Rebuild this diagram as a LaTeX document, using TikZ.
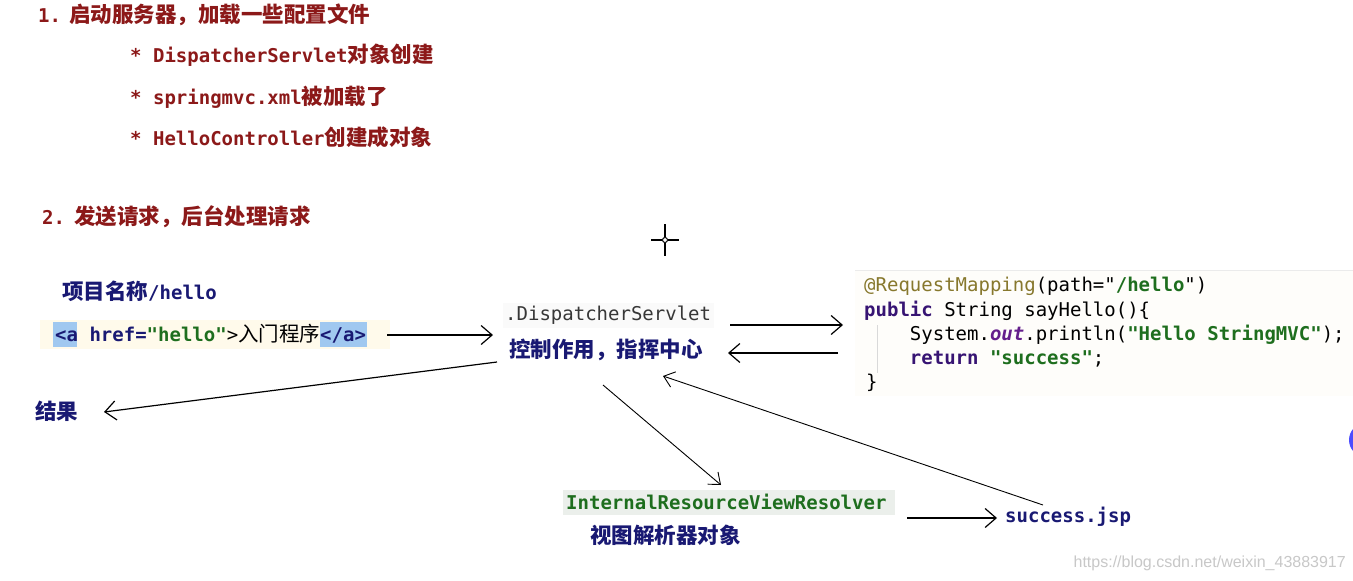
\documentclass[tikz,border=0pt]{standalone}
\usepackage{fontspec}
\setmainfont{DejaVu Sans}
\newfontfamily\cjk{Noto Sans CJK SC}
\newfontfamily\mono{DejaVu Sans Mono}
\newfontfamily\wmfont{Liberation Sans}
\usetikzlibrary{arrows.meta}
\definecolor{maroon}{RGB}{140,25,25}
\definecolor{navyc}{RGB}{25,25,115}
\definecolor{kwpurple}{RGB}{55,20,115}
\definecolor{strgreen}{RGB}{30,110,30}
\definecolor{annolive}{RGB}{135,120,45}
\definecolor{outpurple}{RGB}{100,30,140}
\definecolor{hlblue}{RGB}{160,200,240}
\definecolor{cream}{RGB}{255,250,235}
\definecolor{codebg}{RGB}{254,253,250}
\definecolor{resbg}{RGB}{235,239,235}
\definecolor{wmgrey}{RGB}{200,200,200}
\definecolor{textgrey}{RGB}{55,55,55}
\tikzset{
  txt/.style={anchor=west, inner sep=0pt, font=\mono\fontsize{19}{22}\selectfont},
  arr/.style={line width=1.2pt, -{Straight Barb[length=11pt,width=19pt,line width=1.2pt]}},
  thinarr/.style={line width=0.9pt, -{Straight Barb[length=10pt,width=16pt,line width=0.9pt]}}
}
\newcommand{\cj}[1]{{\cjk\bfseries\fontsize{21.5}{24}\selectfont #1}}
\newcommand{\cjr}[1]{{\cjk\fontsize{20.5}{24}\selectfont #1}}
\begin{document}
\begin{tikzpicture}[x=1pt,y=-1pt]
\useasboundingbox (0,0) rectangle (1353,581);
\fill[white] (0,0) rectangle (1353,581);

% ---- section 1 ----
\node[txt, text=maroon] (h1) at (38,15) {\bfseries 1.\hspace{8pt}\cj{启动服务器，加载一些配置文件}};
\node[txt, text=maroon] (b1) at (130,55) {\bfseries * DispatcherServlet\cj{对象创建}};
\node[txt, text=maroon] (b2) at (130,97) {\bfseries * springmvc.xml\cj{被加载了}};
\node[txt, text=maroon] (b3) at (130,137) {\bfseries * HelloController\cj{创建成对象}};

% ---- section 2 ----
\node[txt, text=maroon] (h2) at (42,217) {\bfseries 2.\hspace{9pt}\cj{发送请求，后台处理请求}};

% cursor
\node[circle, draw=black, line width=1pt, minimum size=5pt, inner sep=0pt] (cur) at (665,240) {};
\draw[line width=1.4pt] (cur.west) -- ++(-11,0);
\draw[line width=1.4pt] (cur.east) -- ++(11,0);
\draw[line width=1.4pt] (cur.north) -- ++(0,-13);
\draw[line width=1.4pt] (cur.south) -- ++(0,13);

% project name
\node[txt, text=navyc] (proj) at (62,291) {\cj{项目名称}\bfseries /hello};

% link line
\fill[cream] (40,320) rectangle (390,349);
\fill[hlblue] (53,322) rectangle (77,347);
\fill[hlblue] (320,322) rectangle (367,347);
\node[txt] (link) at (55,334) {{\bfseries\color{navyc}<a} {\bfseries\color{navyc}href=}{\bfseries\color{strgreen}"hello"}>\cjr{入门程序}{\bfseries\color{navyc}</a>}};

% dispatcher
\fill[black!2] (503,303) rectangle (714,328);
\node[txt, text=textgrey] (ds) at (505,315) {.DispatcherServlet};
\node[txt, text=navyc] (ctl) at (509,350) {\cj{控制作用，指挥中心}};

% code block
\fill[codebg] (855,270) rectangle (1353,396);
\draw[black!8, line width=0.6pt] (855,270) -- (1353,270);
\draw[black!15, line width=0.8pt] (877,325) -- (877,373);
\node[txt] (c1) at (864,286) {{\color{annolive}@RequestMapping}(path="{\bfseries\color{strgreen}/hello}")};
\node[txt] (c2) at (864,311) {{\bfseries\color{kwpurple}public} String sayHello()\{};
\node[txt] (c3) at (864,335) {\ \ \ \ System.{\bfseries\itshape\color{outpurple}out}.println({\bfseries\color{strgreen}"Hello StringMVC"});};
\node[txt] (c4) at (864,359) {\ \ \ \ {\bfseries\color{kwpurple}return} {\bfseries\color{strgreen}"success"};};
\node[txt] (c5) at (866,383) {\}};

% result
\node[txt, text=navyc] (res) at (35,411) {\cj{结果}};

% view resolver
\fill[resbg] (563,490) rectangle (895,515);
\node[txt, text=strgreen] (ivr) at (566,502) {\bfseries InternalResourceViewResolver};
\node[txt, text=navyc] (vr) at (590,535) {\cj{视图解析器对象}};

% success.jsp
\node[txt, text=navyc] (jsp) at (1005,517) {\bfseries success.jsp};

% watermark
\node[anchor=east, inner sep=0pt, text=wmgrey, font=\wmfont\fontsize{16}{18}\selectfont] (wm) at (1346,563) {https://blog.csdn.net/weixin\_43883917};

% blue ring fragment at right edge
\draw[blue!70, line width=4pt] (1366,440) circle (15);

% connector end points
\coordinate (p1s) at (387,335);  \coordinate (p1e) at (493,335);
\coordinate (p2s) at (730,325);  \coordinate (p2e) at (843,325);
\coordinate (p3s) at (838,353);  \coordinate (p3e) at (728,353);
\coordinate (p4s) at (497,362);  \coordinate (p4e) at (104,412);
\coordinate (p5s) at (603,385);  \coordinate (p5e) at (721,485);
\coordinate (p6s) at (1043,505); \coordinate (p6e) at (663,376);
\coordinate (p7s) at (907,518);  \coordinate (p7e) at (997,518);

\draw[arr] (p1s) -- (p1e);
\draw[arr] (p2s) -- (p2e);
\draw[arr] (p3s) -- (p3e);
\draw[arr] (p4s) -- (p4e);
\draw[thinarr] (p5s) -- (p5e);
\draw[thinarr] (p6s) -- (p6e);
\draw[arr] (p7s) -- (p7e);
\end{tikzpicture}
\end{document}
